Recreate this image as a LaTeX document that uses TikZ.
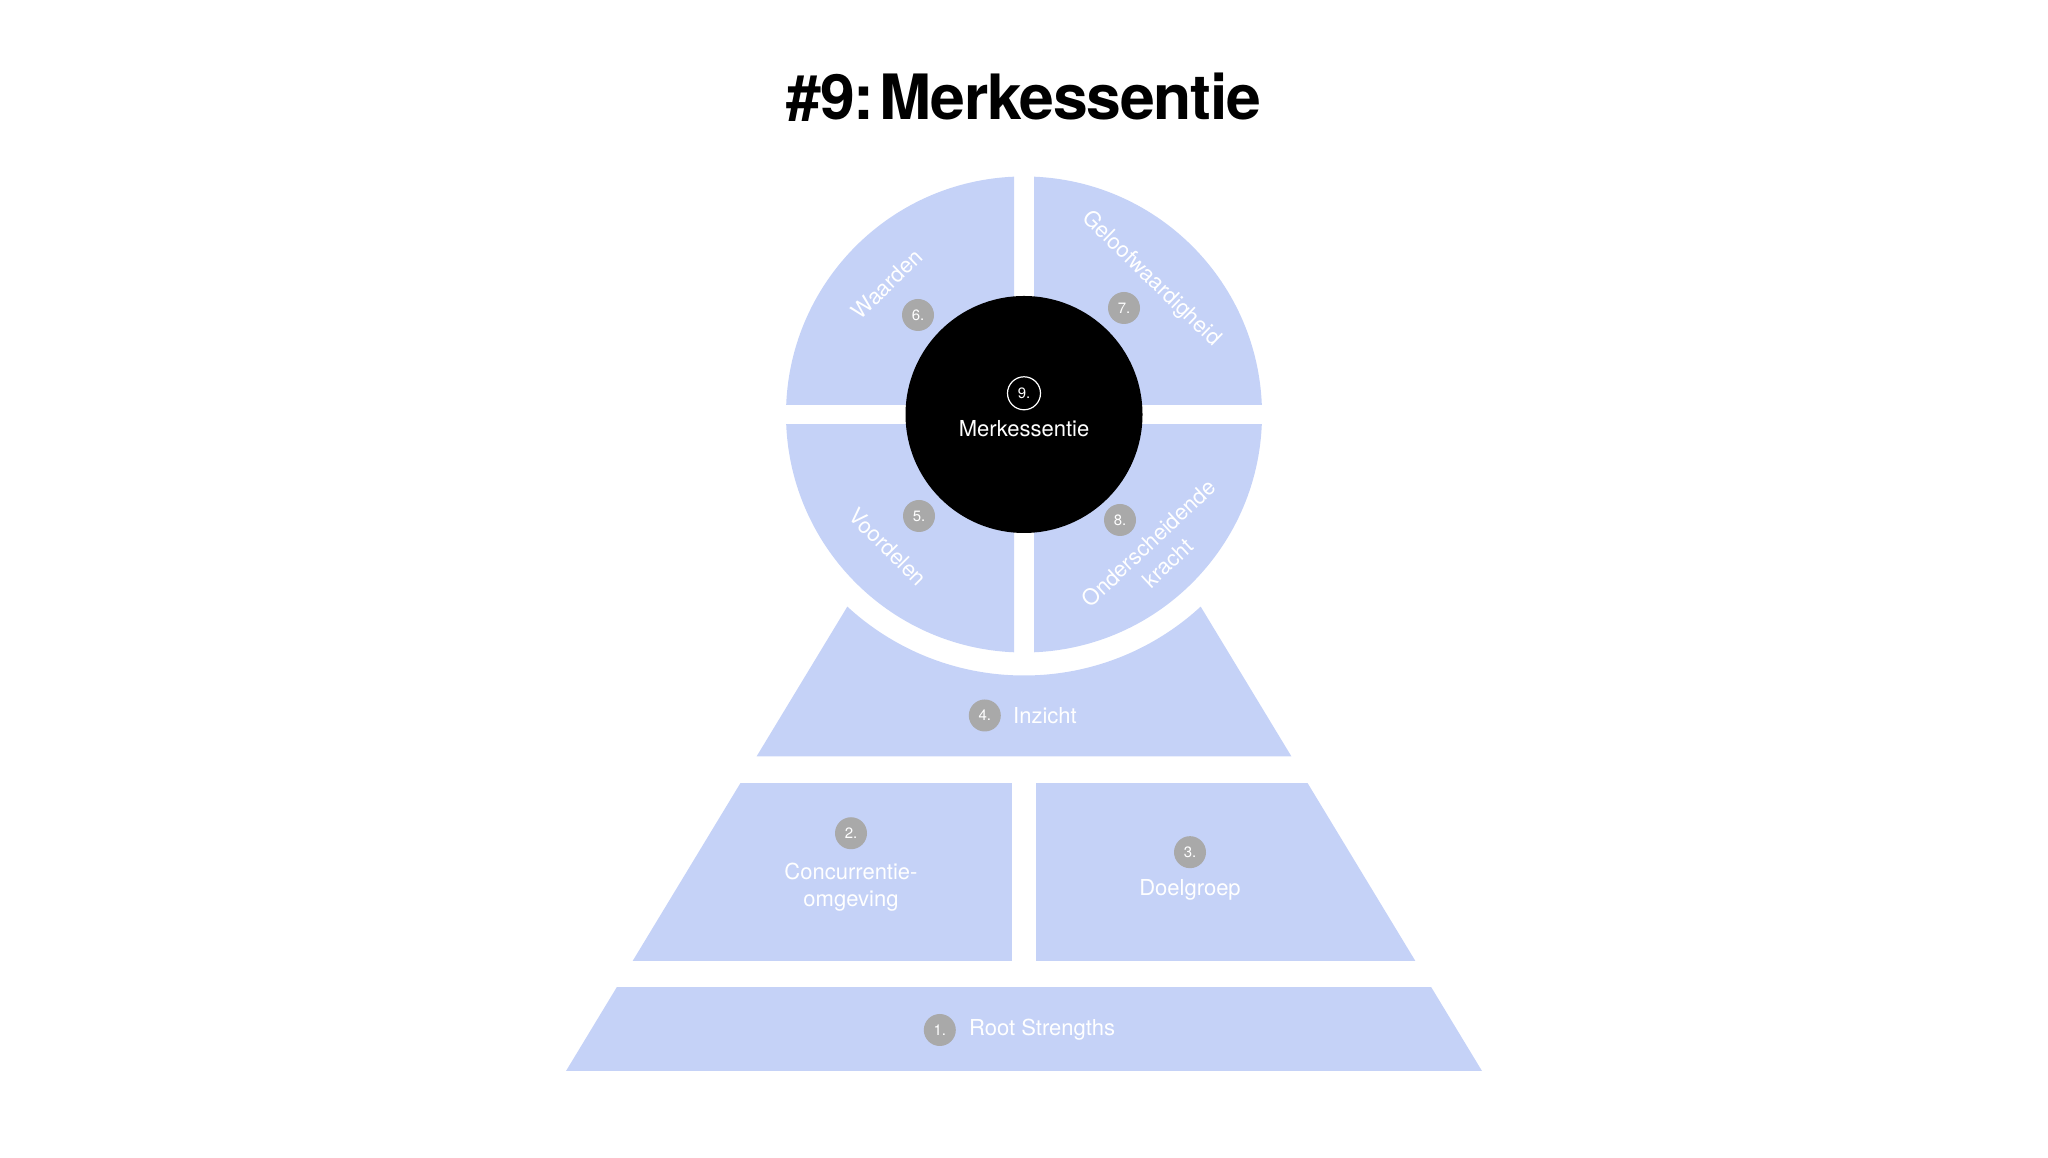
\documentclass[tikz,border=0pt]{standalone}
\usepackage{fontspec}
\setmainfont{TeX Gyre Heros}
\newfontfamily\titlefont{TeX Gyre Heros}[LetterSpace=-2.0]
\usetikzlibrary{positioning}
\definecolor{bandblue}{HTML}{C5D2F7}
\definecolor{badgegray}{HTML}{A9A9A9}

\begin{document}
\begin{tikzpicture}[x=1pt,y=1pt]

	\tikzset{BandStyle/.style   = {fill = bandblue}}

	\tikzset{BadgeStyle/.style  = {shape          = circle,
			fill           = badgegray,
			text           = white,
			inner sep      = 0pt,
			minimum size   = 32pt,
			font           = \fontsize{15}{15}\selectfont}}

	\tikzset{LabelStyle/.style  = {text           = white,
			inner sep      = 0pt,
			align          = center,
			font           = \fontsize{22}{27.5}\selectfont}}

	\useasboundingbox (0,0) rectangle (2048,1158);

	\node[anchor=base, font=\titlefont\bfseries\fontsize{62.5}{62.5}\selectfont] (title) at (1024,1038) {\#9:\hspace{5pt}Merkessentie};

	\coordinate (C) at (1024,743.5);
	\coordinate (apex) at (1024,843);
	\coordinate (bl) at (566,87);
	\coordinate (br) at (1482,87);

	% pyramid bands
	\begin{scope}
		\clip (bl) -- (apex) -- (br) -- cycle;
		\fill[BandStyle] (500,87) rectangle (1548,171.3);
		\fill[BandStyle] (500,197.3) rectangle (1012,375.3);
		\fill[BandStyle] (1036,197.3) rectangle (1548,375.3);
		\fill[BandStyle, even odd rule] (500,401.5) rectangle (1548,900) (C) circle (261);
	\end{scope}

	% circle quadrants
	\foreach \sx/\sy in {-1/1, 1/1, -1/-1, 1/-1} {
		\begin{scope}
			\clip (1024+\sx*10, 743.5+\sy*10.3) rectangle ++(\sx*260, \sy*260);
			\fill[BandStyle] (C) circle (238);
		\end{scope}
	}

	\node[shape=circle, fill=black, inner sep=0pt, minimum size=237pt] (core) at (C) {};
	\node[shape=circle, draw=white, line width=1.2pt, text=white, inner sep=0pt,
		minimum size=33pt, font=\fontsize{15}{15}\selectfont] (b9) at (1024,764.7) {9.};
	\node[LabelStyle] (merkessentie) at (1024,729) {Merkessentie};

	\node[LabelStyle, rotate=44] (waarden) at (887,874) {Waarden};
	\node[LabelStyle, rotate=-44] (geloof) at (1151,879) {Geloofwaardigheid};
	\node[LabelStyle, rotate=-45] (voordelen) at (888,611) {Voordelen};
	\node[LabelStyle, rotate=43] (onderscheid) at (1158,605) {Onderscheidende\\kracht};

	\node[BadgeStyle] (b6) at (918,843) {6.};
	\node[BadgeStyle] (b7) at (1124,850) {7.};
	\node[BadgeStyle] (b5) at (919,642) {5.};
	\node[BadgeStyle] (b8) at (1120,638) {8.};

	\node[LabelStyle, anchor=west] (inzicht) at (1013,442.5) {Inzicht};
	\node[BadgeStyle, left=12pt of inzicht] (b4) {4.};

	\node[LabelStyle] (concurrentie) at (851,271) {Concurrentie-\\omgeving};
	\node[BadgeStyle, above=13pt of concurrentie] (b2) {2.};

	\node[LabelStyle] (doelgroep) at (1190,268) {Doelgroep};
	\node[BadgeStyle, above=11pt of doelgroep] (b3) {3.};

	\node[LabelStyle, anchor=west] (roots) at (969,128) {Root Strengths};
	\node[BadgeStyle, left=13pt of roots] (b1) {1.};

\end{tikzpicture}
\end{document}
